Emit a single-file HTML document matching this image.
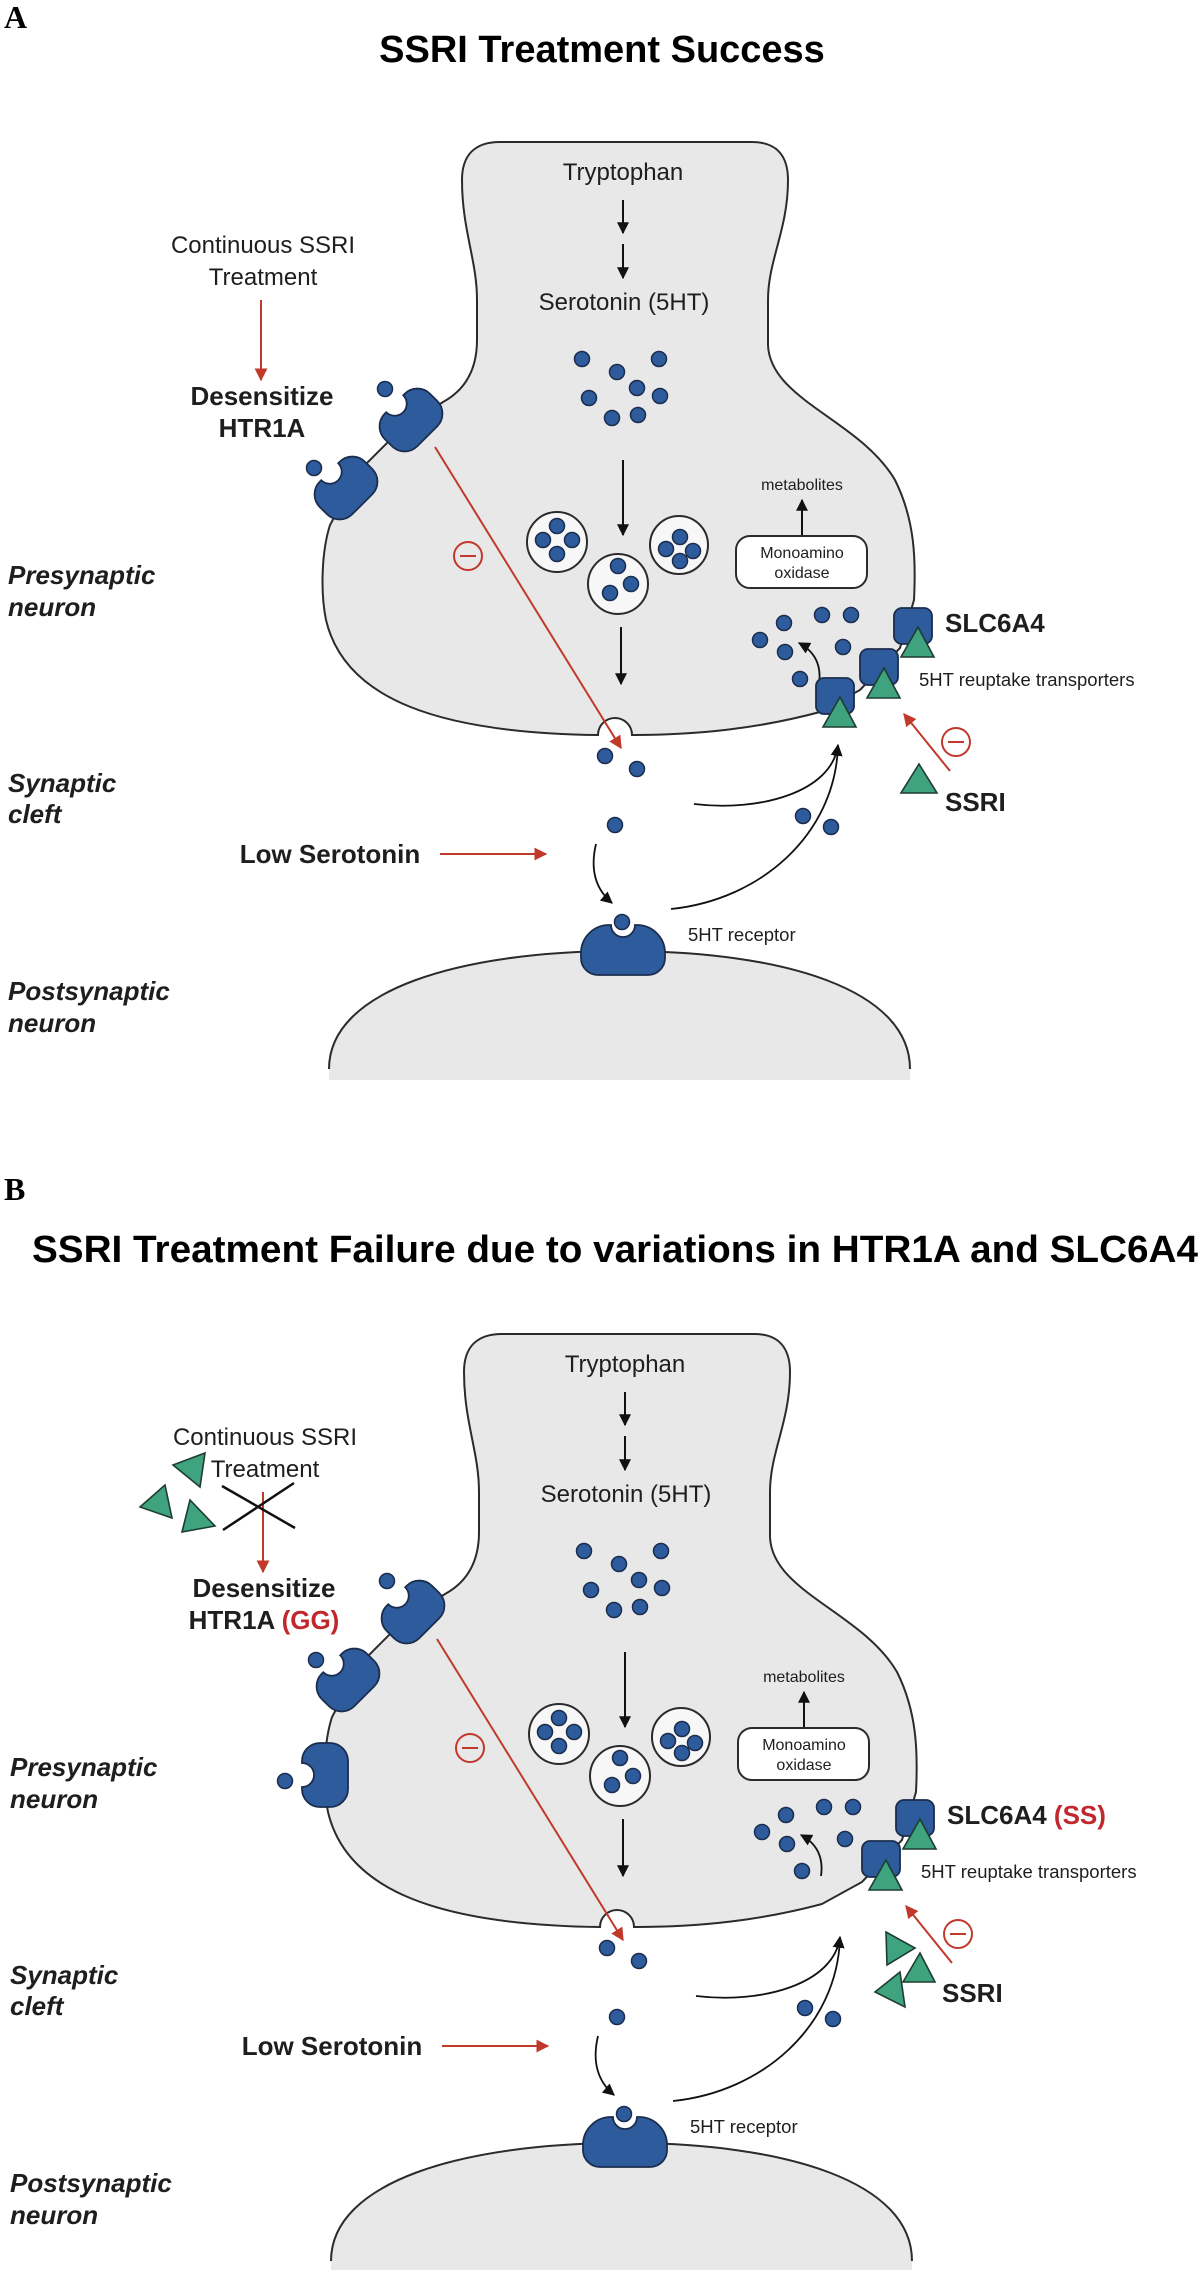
<!DOCTYPE html>
<html><head><meta charset="utf-8"><style>
html,body{margin:0;padding:0;background:#fff;}
svg{display:block;}
text{font-family:"Liberation Sans",Arial,sans-serif;fill:#1e1e1e;}
.n24{font-size:24px;}
.b26{font-size:26px;font-weight:bold;}
.bi{font-size:26px;font-weight:bold;font-style:italic;}
.s16{font-size:16px;}
.s18{font-size:18.5px;}
.red{fill:#c0282e;}
</style></head><body>
<svg width="1200" height="2270" viewBox="0 0 1200 2270" xmlns="http://www.w3.org/2000/svg">
<defs>
<marker id="ak" viewBox="0 0 10 10" refX="9" refY="5" markerWidth="12" markerHeight="12" markerUnits="userSpaceOnUse" orient="auto"><path d="M0,0 L10,5 L0,10 z" fill="#111"/></marker>
<marker id="ar" viewBox="0 0 10 10" refX="9" refY="5" markerWidth="13" markerHeight="13" markerUnits="userSpaceOnUse" orient="auto"><path d="M0,0 L10,5 L0,10 z" fill="#c0392b"/></marker>
<path id="rec" d="M -14,-23 L -12,-23 A 12 12 0 0 0 12 -23 L 14,-23 A 18 18 0 0 1 32,-5 L 32,5 A 18 18 0 0 1 14,23 L -14,23 A 18 18 0 0 1 -32,5 L -32,-5 A 18 18 0 0 1 -14,-23 Z" fill="#2d5b9b" stroke="#1b2d4d" stroke-width="1.8"/>
<path id="prec" d="M -14,-25 L -12,-25 A 12 12 0 0 0 12 -25 L 14,-25 A 28 28 0 0 1 42,3 L 42,8 A 17 17 0 0 1 25,25 L -25,25 A 17 17 0 0 1 -42,8 L -42,3 A 28 28 0 0 1 -14,-25 Z" fill="#2d5b9b" stroke="#1b2d4d" stroke-width="1.8"/>
<g id="dot"><circle r="7.5" fill="#2d5b9b" stroke="#1b2d4d" stroke-width="1.5"/></g>
<g id="tr"><rect x="-19" y="-18" width="38" height="36" rx="8" fill="#2d5b9b" stroke="#1b2d4d" stroke-width="1.8"/><path d="M -12,31 L 21,31 L 5,1 Z" fill="#3ea37e" stroke="#1e3d30" stroke-width="1.6"/></g>
<g id="minus"><circle r="14" fill="none" stroke="#c0392b" stroke-width="2"/><line x1="-8" y1="0" x2="8" y2="0" stroke="#c0392b" stroke-width="2"/></g>

<g id="common">
<path d="M 329,1080 L 329,1069 C 329,990 460,951 622,951 C 785,951 910,990 910,1069 L 910,1080 Z" fill="#e8e8e8"/>
<path d="M 329,1069 C 329,990 460,951 622,951 C 785,951 910,990 910,1069" fill="none" stroke="#2b2b2b" stroke-width="2"/>
<path d="M 500,142 L 752,142 C 776,142 788,155 788,180 C 788,230 768,260 768,300 L 768,345 C 770,400 860,420 895,480 C 915,520 916,560 914,600 L 900,648 L 860,690 L 820,712 C 760,728 700,735 632,735 A 17 17 0 0 0 598,735 C 440,733 345,700 326,620 C 320,590 322,550 330,525 L 360,470 L 400,430 L 443,402 C 465,390 477,370 477,340 L 477,300 C 477,260 462,230 462,180 C 462,155 475,142 500,142 Z" fill="#e8e8e8" stroke="#2b2b2b" stroke-width="2"/>
<text class="n24" x="623" y="180" text-anchor="middle">Tryptophan</text>
<line x1="623" y1="200" x2="623" y2="233" stroke="#111" stroke-width="2" marker-end="url(#ak)"/>
<line x1="623" y1="244" x2="623" y2="278" stroke="#111" stroke-width="2" marker-end="url(#ak)"/>
<text class="n24" x="624" y="310" text-anchor="middle">Serotonin (5HT)</text>
<use href="#dot" x="582" y="359"/><use href="#dot" x="659" y="359"/><use href="#dot" x="617" y="372"/><use href="#dot" x="637" y="388"/><use href="#dot" x="589" y="398"/><use href="#dot" x="660" y="396"/><use href="#dot" x="612" y="418"/><use href="#dot" x="638" y="415"/>
<line x1="623" y1="460" x2="623" y2="535" stroke="#111" stroke-width="2" marker-end="url(#ak)"/>
<circle cx="557" cy="542" r="30" fill="#f7f7f7" stroke="#2b2b2b" stroke-width="2"/>
<use href="#dot" x="557" y="526"/><use href="#dot" x="543" y="540"/><use href="#dot" x="572" y="540"/><use href="#dot" x="557" y="554"/>
<circle cx="618" cy="584" r="30" fill="#f7f7f7" stroke="#2b2b2b" stroke-width="2"/>
<use href="#dot" x="618" y="566"/><use href="#dot" x="631" y="584"/><use href="#dot" x="610" y="593"/>
<circle cx="679" cy="545" r="29" fill="#f7f7f7" stroke="#2b2b2b" stroke-width="2"/>
<use href="#dot" x="680" y="537"/><use href="#dot" x="666" y="549"/><use href="#dot" x="693" y="551"/><use href="#dot" x="680" y="561"/>
<line x1="621" y1="627" x2="621" y2="684" stroke="#111" stroke-width="2" marker-end="url(#ak)"/>
<text class="s16" x="802" y="490" text-anchor="middle">metabolites</text>
<line x1="802" y1="536" x2="802" y2="500" stroke="#111" stroke-width="2" marker-end="url(#ak)"/>
<rect x="736" y="536" width="131" height="52" rx="14" fill="#fff" stroke="#2b2b2b" stroke-width="2"/>
<text class="s16" x="802" y="558" text-anchor="middle">Monoamino</text>
<text class="s16" x="802" y="578" text-anchor="middle">oxidase</text>
<use href="#dot" x="760" y="640"/><use href="#dot" x="784" y="623"/><use href="#dot" x="822" y="615"/><use href="#dot" x="851" y="615"/><use href="#dot" x="785" y="652"/><use href="#dot" x="843" y="647"/><use href="#dot" x="800" y="679"/>
<path d="M 819,684 Q 823,656 799,643" fill="none" stroke="#111" stroke-width="1.8" marker-end="url(#ak)"/>
<use href="#rec" transform="translate(411,420) rotate(-45)"/>
<use href="#rec" transform="translate(346,488) rotate(-45)"/>
<use href="#dot" x="385" y="389"/><use href="#dot" x="314" y="468"/>
<text class="n24" x="263" y="253" text-anchor="middle">Continuous SSRI</text>
<text class="n24" x="263" y="285" text-anchor="middle">Treatment</text>
<line x1="261" y1="300" x2="261" y2="380" stroke="#c0392b" stroke-width="2" marker-end="url(#ar)"/>
<text class="bi" x="8" y="584">Presynaptic</text>
<text class="bi" x="8" y="616">neuron</text>
<text class="bi" x="8" y="792">Synaptic</text>
<text class="bi" x="8" y="823">cleft</text>
<text class="bi" x="8" y="1000">Postsynaptic</text>
<text class="bi" x="8" y="1032">neuron</text>
<line x1="435" y1="447" x2="621" y2="748" stroke="#c0392b" stroke-width="2" marker-end="url(#ar)"/>
<use href="#minus" x="468" y="556"/>
<use href="#dot" x="605" y="756"/><use href="#dot" x="637" y="769"/><use href="#dot" x="615" y="825"/><use href="#dot" x="803" y="816"/><use href="#dot" x="831" y="827"/>
<text class="b26" x="330" y="863" text-anchor="middle">Low Serotonin</text>
<line x1="440" y1="854" x2="546" y2="854" stroke="#c0392b" stroke-width="2" marker-end="url(#ar)"/>
<path d="M 596,844 Q 587,882 612,903" fill="none" stroke="#111" stroke-width="1.8" marker-end="url(#ak)"/>
<path d="M 694,804 C 760,812 832,792 838,745" fill="none" stroke="#111" stroke-width="1.8" marker-end="url(#ak)"/>
<path d="M 671,909 C 760,900 835,835 838,746" fill="none" stroke="#111" stroke-width="1.8"/>
<use href="#prec" x="623" y="950"/>
<use href="#dot" x="622" y="922"/>
<text class="s18" x="688" y="941">5HT receptor</text>
<use href="#tr" x="913" y="626"/>
<use href="#tr" x="879" y="667"/>
<text class="s18" x="919" y="686">5HT reuptake transporters</text>
<line x1="950" y1="771" x2="904" y2="714" stroke="#c0392b" stroke-width="2" marker-end="url(#ar)"/>
<use href="#minus" x="956" y="742"/>
</g>
</defs>

<text x="4" y="28" style="font-family:'Liberation Serif',serif;font-size:32px;font-weight:bold;fill:#000">A</text>
<text x="602" y="62" text-anchor="middle" style="font-size:38px;font-weight:bold;fill:#000">SSRI Treatment Success</text>
<use href="#common"/>
<use href="#tr" x="835" y="696"/>
<text class="b26" x="262" y="405" text-anchor="middle">Desensitize</text>
<text class="b26" x="262" y="437" text-anchor="middle">HTR1A</text>
<text class="b26" x="945" y="632">SLC6A4</text>
<path d="M 901,793 L 937,793 L 919,764 Z" fill="#3ea37e" stroke="#1e3d30" stroke-width="1.6"/>
<text class="b26" x="945" y="811">SSRI</text>

<text x="4" y="1200" style="font-family:'Liberation Serif',serif;font-size:32px;font-weight:bold;fill:#000">B</text>
<text x="32" y="1262" textLength="1166" lengthAdjust="spacingAndGlyphs" style="font-size:38px;font-weight:bold;fill:#000">SSRI Treatment Failure due to variations in HTR1A and SLC6A4</text>
<g transform="translate(2,1192)">
<use href="#common"/>
<use href="#rec" transform="translate(323,583) rotate(-90)"/>
<use href="#dot" x="283" y="589"/>
<path d="M 171,273 L 203,261 L 198,295 Z" fill="#3ea37e" stroke="#1e3d30" stroke-width="1.6"/>
<path d="M 138,315 L 163,293 L 170,326 Z" fill="#3ea37e" stroke="#1e3d30" stroke-width="1.6"/>
<path d="M 180,340 L 188,308 L 213,334 Z" fill="#3ea37e" stroke="#1e3d30" stroke-width="1.6"/>
<line x1="220" y1="294" x2="293" y2="336" stroke="#111" stroke-width="2.5"/>
<line x1="221" y1="338" x2="292" y2="291" stroke="#111" stroke-width="2.5"/>
<text class="b26" x="262" y="405" text-anchor="middle">Desensitize</text>
<text class="b26" x="262" y="437" text-anchor="middle">HTR1A <tspan class="red">(GG)</tspan></text>
<text class="b26" x="945" y="632">SLC6A4 <tspan class="red">(SS)</tspan></text>
<path d="M 884,740 L 913,756 L 885,773 Z" fill="#3ea37e" stroke="#1e3d30" stroke-width="1.6"/>
<path d="M 901,790 L 918,761 L 933,790 Z" fill="#3ea37e" stroke="#1e3d30" stroke-width="1.6"/>
<path d="M 873,800 L 898,780 L 903,815 Z" fill="#3ea37e" stroke="#1e3d30" stroke-width="1.6"/>
<text class="b26" x="940" y="810">SSRI</text>
</g>
</svg>
</body></html>
